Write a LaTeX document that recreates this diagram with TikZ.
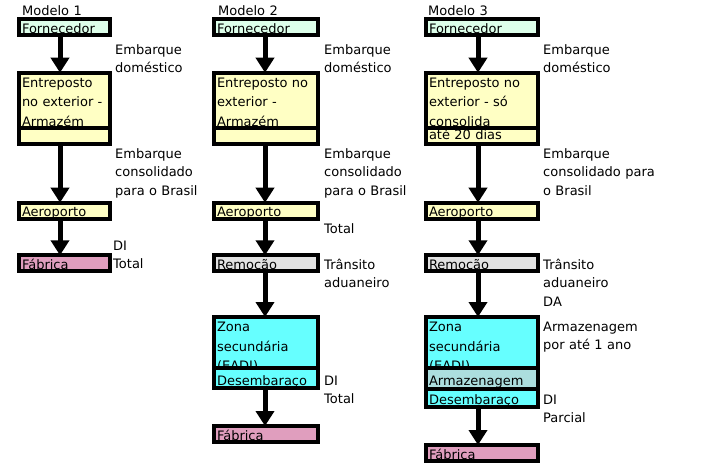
\documentclass[tikz,border=0pt]{standalone}
\usepackage{fontspec}
\setmainfont{DejaVu Sans}
\usepackage{xcolor}
\usepackage{tikz}
\usetikzlibrary{arrows.meta}
\definecolor{fornfill}{RGB}{221,255,234}
\definecolor{entrfill}{RGB}{255,255,196}
\definecolor{fabfill}{RGB}{224,158,190}
\definecolor{remfill}{RGB}{226,226,226}
\definecolor{zonafill}{RGB}{102,255,255}
\definecolor{armfill}{RGB}{172,222,222}

\begin{document}
\begin{tikzpicture}[x=1pt,y=-1pt,font=\fontsize{13}{19.5}\selectfont,
      >={Triangle[width=18pt,length=15pt]},
      box/.style={draw,line width=4pt,anchor=north west,outer sep=0pt,
                  inner xsep=3pt,inner ysep=0pt,align=left,text width=#1},
      one/.style={text height=14pt,text depth=2pt},
      lbl/.style={anchor=base west,inner sep=0pt,align=left,text width=140pt,
                  font=\fontsize{13}{18.7}\selectfont},
      flow/.style={->,line width=5pt}]
    \path[fill=white] (0,0) rectangle (708,471);
    \coordinate (c1) at (60,0);
    \coordinate (c2) at (265,0);
    \coordinate (c3) at (478,0);

    \node[lbl] (mod1) at (22,16) {Modelo 1};
    \node[lbl] (mod2) at (218,16) {Modelo 2};
    \node[lbl] (mod3) at (428,16) {Modelo 3};

    \node[box=85pt,one,fill=fornfill] (forn1) at (19,19) {Fornecedor};
    \node[box=85pt,fill=entrfill,text height=14.3pt,text depth=41pt] (entr1) at (19,72.7)
      {Entreposto\\no exterior -\\Armazém};
    \node[box=85pt,fill=entrfill,text height=11.5pt,text depth=4.2pt] (entr1b) at (19,128) {};
    \node[box=85pt,one,fill=entrfill] (aero1) at (19,202.7) {Aeroporto};
    \node[box=85pt,one,fill=fabfill] (fab1) at (19,255.3) {Fábrica};

    \node[box=98pt,one,fill=fornfill] (forn2) at (214,19) {Fornecedor};
    \node[box=98pt,fill=entrfill,text height=14.3pt,text depth=41pt] (entr2) at (214,72.7)
      {Entreposto~no\\exterior -\\Armazém};
    \node[box=98pt,fill=entrfill,text height=11.5pt,text depth=4.2pt] (entr2b) at (214,128) {};
    \node[box=98pt,one,fill=entrfill] (aero2) at (214,202.7) {Aeroporto};
    \node[box=98pt,one,fill=remfill] (rem2) at (214,255.3) {Remoção};
    \node[box=98pt,fill=zonafill,text height=14.7pt,text depth=36.6pt] (zona2) at (214,317)
      {Zona\\secundária\\(EADI)};
    \node[box=98pt,fill=zonafill,text height=16.7pt,text depth=3pt] (desemb2) at (214,368.3)
      {Desembaraço};
    \node[box=98pt,one,fill=fabfill] (fab2) at (214,426) {Fábrica};

    \node[box=106pt,one,fill=fornfill] (forn3) at (426,19) {Fornecedor};
    \node[box=106pt,fill=entrfill,text height=14.3pt,text depth=41pt] (entr3) at (426,72.7)
      {Entreposto no\\exterior - só\\consolida};
    \node[box=106pt,fill=entrfill,text height=11.5pt,text depth=4.2pt] (entr3b) at (426,128)
      {até 20 dias};
    \node[box=106pt,one,fill=entrfill] (aero3) at (426,202.7) {Aeroporto};
    \node[box=106pt,one,fill=remfill] (rem3) at (426,255.3) {Remoção};
    \node[box=106pt,fill=zonafill,text height=14.7pt,text depth=36.6pt] (zona3) at (426,317)
      {Zona\\secundária\\(EADI)};
    \node[box=106pt,fill=armfill,text height=16.7pt,text depth=4pt] (arm3) at (426,368.3)
      {Armazenagem};
    \node[box=106pt,fill=zonafill,text height=15pt,text depth=3pt] (desemb3) at (426,389)
      {Desembaraço};
    \node[box=106pt,one,fill=fabfill] (fab3) at (426,445) {Fábrica};

    \node[lbl] (emb1) at (115,54) {Embarque\\doméstico};
    \node[lbl] (cons1) at (115,158) {Embarque\\consolidado\\para o Brasil};
    \node[lbl] (di1) at (113,250) {DI\\Total};

    \node[lbl] (emb2) at (324,54) {Embarque\\doméstico};
    \node[lbl] (cons2) at (324,158) {Embarque\\consolidado\\para o Brasil};
    \node[lbl] (tot2) at (324,233) {Total};
    \node[lbl] (tra2) at (324,269) {Trânsito\\aduaneiro};
    \node[lbl] (di2) at (324,385) {DI\\Total};

    \node[lbl] (emb3) at (543,54) {Embarque\\doméstico};
    \node[lbl] (cons3) at (543,158) {Embarque\\consolidado para\\o Brasil};
    \node[lbl] (tra3) at (543,269) {Trânsito\\aduaneiro\\DA};
    \node[lbl] (armz3) at (543,331) {Armazenagem\\por até 1 ano};
    \node[lbl] (di3) at (543,404) {DI\\Parcial};

    \draw[flow] (forn1.south -| c1) -- (entr1.north -| c1);
    \draw[flow] (entr1b.south -| c1) -- (aero1.north -| c1);
    \draw[flow] (aero1.south -| c1) -- (fab1.north -| c1);

    \draw[flow] (forn2.south -| c2) -- (entr2.north -| c2);
    \draw[flow] (entr2b.south -| c2) -- (aero2.north -| c2);
    \draw[flow] (aero2.south -| c2) -- (rem2.north -| c2);
    \draw[flow] (rem2.south -| c2) -- (zona2.north -| c2);
    \draw[flow] (desemb2.south -| c2) -- (fab2.north -| c2);

    \draw[flow] (forn3.south -| c3) -- (entr3.north -| c3);
    \draw[flow] (entr3b.south -| c3) -- (aero3.north -| c3);
    \draw[flow] (aero3.south -| c3) -- (rem3.north -| c3);
    \draw[flow] (rem3.south -| c3) -- (zona3.north -| c3);
    \draw[flow] (desemb3.south -| c3) -- (fab3.north -| c3);
  \end{tikzpicture}
\end{document}
